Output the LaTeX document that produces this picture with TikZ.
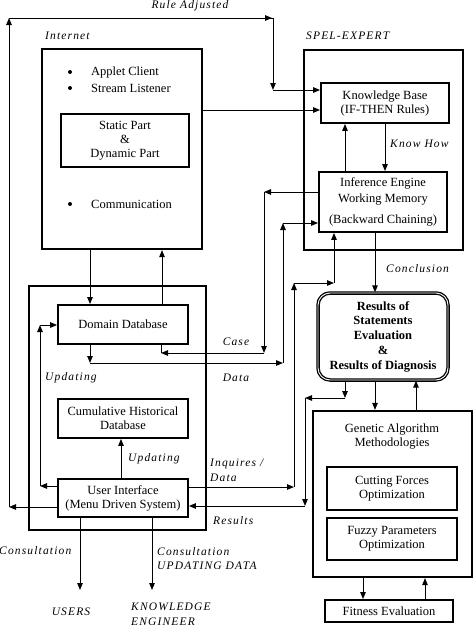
\documentclass[tikz,border=0pt]{standalone}
\usepackage{fontspec}
\setmainfont{Liberation Serif}
\newfontfamily\lblfont[LetterSpace=10]{Liberation Serif}
\usetikzlibrary{arrows.meta}
\begin{document}
\begin{tikzpicture}[x=1pt,y=-1pt,
  box/.style={draw, line width=1.8pt, inner sep=0pt, align=center, font=\fontsize{12.5}{14}\selectfont},
  frame/.style={draw, line width=2.2pt, inner sep=0pt},
  txt/.style={inner sep=0pt, align=center, font=\fontsize{12.5}{14}\selectfont},
  dot/.style={circle, fill, inner sep=0pt, minimum size=4pt},
  lbl/.style={inner sep=0pt, align=left, font=\lblfont\itshape\fontsize{11.5}{14.5}\selectfont},
  conn/.style={line width=1pt},
  arr/.style={conn, -{Triangle[length=7pt,width=5.5pt]}},
]
\useasboundingbox (0,0) rectangle (474,627);

% ---- frames
\node[frame, minimum width=160pt, minimum height=200pt] (inet) at (122,149) {};
\node[frame, minimum width=159pt, minimum height=200pt] (spel) at (383.5,150) {};
\node[frame, minimum width=177pt, minimum height=244pt] (user) at (117.5,408) {};
\node[frame, minimum width=159pt, minimum height=166pt] (ga) at (392.5,494) {};

% ---- boxes
\node[box, minimum width=128pt, minimum height=53pt] (static) at (125,140.5) {Static Part\\\&\\Dynamic Part};
\node[box, minimum width=128pt, minimum height=40pt] (kb) at (385,103) {Knowledge Base\\(IF-THEN Rules)};
\node[box, minimum width=128pt, minimum height=60pt] (inf) at (383,202) {Inference Engine\\[2pt]Working Memory\\[7pt](Backward Chaining)};
\node[draw, line width=1.3pt, double=white, double distance=0.9pt, rounded corners=12pt,
      inner sep=0pt, align=center, minimum width=130pt, minimum height=87pt,
      font=\bfseries\fontsize{12.5}{14.75}\selectfont] (res) at (383,336.5)
      {Results of\\Statements\\Evaluation\\\&\\Results of Diagnosis};
\node[box, minimum width=130pt, minimum height=43pt] (cf) at (392,488.5) {Cutting Forces\\Optimization};
\node[box, minimum width=130pt, minimum height=42pt] (fz) at (392,539) {Fuzzy Parameters\\Optimization};
\node[box, minimum width=128pt, minimum height=22pt] (fit) at (389,611) {Fitness Evaluation};
\node[box, minimum width=130pt, minimum height=39pt] (dd) at (123,324.5) {Domain Database};
\node[box, minimum width=130pt, minimum height=39pt] (chd) at (123,418.5) {Cumulative Historical\\Database};
\node[box, minimum width=130pt, minimum height=38pt] (ui) at (123,498) {User Interface\\(Menu Driven System)};

% ---- texts
\node[dot] (b1) at (70,72) {};
\node[txt, anchor=west] (t1) at (91,72) {Applet Client};
\node[dot] (b2) at (70,88) {};
\node[txt, anchor=west] (t2) at (91,88) {Stream Listener};
\node[dot] (b3) at (70,204) {};
\node[txt, anchor=west] (t3) at (91,204) {Communication};
\node[txt] (gat) at (392,436.5) {Genetic Algorithm\\Methodologies};

% ---- labels
\node[lbl] (lrule) at (190,6) {Rule Adjusted};
\node[lbl, anchor=west] (linet) at (45,36) {Internet};
\node[lbl, anchor=west] (lspel) at (306,36) {SPEL-EXPERT};
\node[lbl, anchor=west] (lknow) at (390,144) {Know How};
\node[lbl, anchor=west] (lconc) at (386,269) {Conclusion};
\node[lbl] (lcase) at (236,342) {Case};
\node[lbl] (ldata) at (236,378) {Data};
\node[lbl, anchor=west] (lupd1) at (45,378) {Updating};
\node[lbl, anchor=west] (lupd2) at (128,459) {Updating};
\node[lbl, anchor=west] (linq) at (210,470) {Inquires /\\Data};
\node[lbl, anchor=west] (lres) at (213,521) {Results};
\node[lbl, anchor=west] (lcons1) at (-1,551) {Consultation};
\node[lbl, anchor=west] (lcons2) at (157,558.5) {Consultation\\UPDATING DATA};
\node[lbl] (lusers) at (71,612) {USERS};
\node[lbl, anchor=west] (lke) at (131,614) {KNOWLEDGE\\ENGINEER};

% ---- coordinates
\coordinate (L1) at (9,507);
\coordinate (L2) at (9,18);
\coordinate (L3) at (273,18);
\coordinate (L4) at (273,90);
\coordinate (I1) at (202,110);
\coordinate (K1) at (345,0);
\coordinate (K2) at (385,0);
\coordinate (C1) at (264,192);
\coordinate (C2) at (264,353);
\coordinate (C3) at (161,353);
\coordinate (D1) at (90,363);
\coordinate (D2) at (283,363);
\coordinate (D3) at (283,223);
\coordinate (Q1) at (294,487);
\coordinate (Q2) at (294,283);
\coordinate (Q3) at (334,283);
\coordinate (R1) at (345,398);
\coordinate (R2) at (305,398);
\coordinate (R3) at (305,506);
\coordinate (X1) at (375,0);
\coordinate (X2) at (416,0);
\coordinate (F1) at (363,0);
\coordinate (F2) at (425,0);
\coordinate (N1) at (90,0);
\coordinate (N2) at (162,0);
\coordinate (U1) at (121,0);
\coordinate (B1) at (40,486);
\coordinate (B2) at (40,325);
\coordinate (O1) at (80,590);
\coordinate (O2) at (152,590);

% ---- connectors
% Rule adjusted loop
\draw[arr] (ui.west |- L1) -- (L1);
\draw[arr] (L1) -- (L2);
\draw[arr] (L2) -- ([xshift=-1pt]L3);
\draw[conn] (L2) -- (L3);
\draw[arr] (L3) -- (L4);
\draw[arr] (L4) -- (kb.west |- L4);
% Internet -> KB
\draw[arr] (inet.east |- I1) -- (kb.west |- I1);
% KB <-> Inference
\draw[arr] (inf.north -| K1) -- (kb.south -| K1);
\draw[arr] (kb.south -| K2) -- (inf.north -| K2);
% Case
\draw[arr] (inf.west |- C1) -- (C1);
\draw[arr] (C1) -- (C2);
\draw[arr] (C2) -- (C3);
\draw[conn] (C3) -- (dd.south -| C3);
% Data
\draw[arr] (dd.south -| D1) -- (D1);
\draw[arr] (D1) -- (D2);
\draw[arr] (D2) -- (D3);
\draw[arr] (D3) -- (inf.west |- D3);
% Inquires / Data
\draw[arr] (ui.east |- Q1) -- (Q1);
\draw[arr] (Q1) -- (Q2);
\draw[arr] (Q2) -- (Q3);
\draw[arr] (Q3) -- (inf.south -| Q3);
% Results
\draw[arr] (res.south -| R1) -- (R1);
\draw[arr] (R1) -- (R2);
\draw[arr] (R2) -- (R3);
\draw[arr] (R3) -- (ui.east |- R3);
% Conclusion and GA
\draw[arr] (inf.south -| X1) -- (res.north -| X1);
\draw[arr] (res.south -| X1) -- (ga.north -| X1);
\draw[arr] (ga.north -| X2) -- (res.south -| X2);
\draw[arr] (ga.south -| F1) -- (fit.north -| F1);
\draw[arr] (fit.north -| F2) -- (ga.south -| F2);
% Internet <-> Domain Database
\draw[arr] (inet.south -| N1) -- (dd.north -| N1);
\draw[arr] (dd.north -| N2) -- (inet.south -| N2);
% Updating
\draw[arr] (ui.north -| U1) -- (chd.south -| U1);
% inner loop
\draw[arr] (ui.west |- B1) -- (B1);
\draw[arr] (B1) -- (B2);
\draw[arr] (B2) -- (dd.west |- B2);
% outputs
\draw[arr] (ui.south -| O1) -- (O1);
\draw[arr] (ui.south -| O2) -- (O2);
\end{tikzpicture}
\end{document}
